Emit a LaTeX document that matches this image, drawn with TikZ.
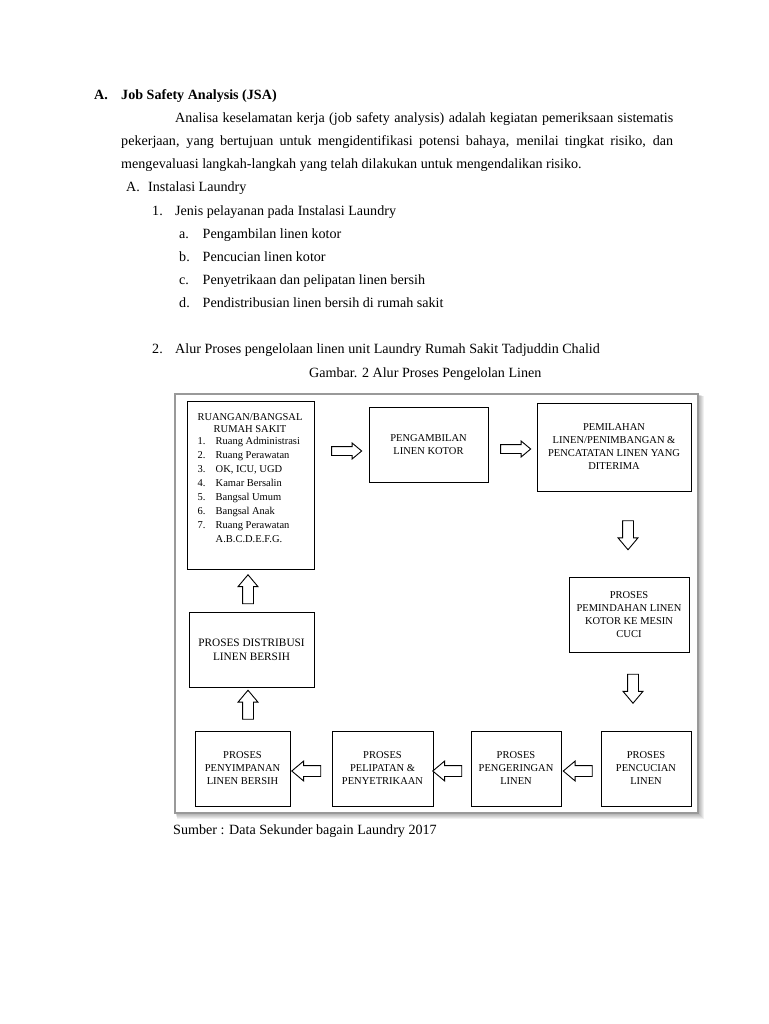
\documentclass[tikz,border=0pt]{standalone}
\usepackage{fontspec}
\setmainfont{Liberation Serif}
\usetikzlibrary{shapes.arrows}
\begin{document}
\begin{tikzpicture}[x=1pt,y=-1pt,
  txt/.style={anchor=base west, inner sep=0, font=\fontsize{14.1}{17}\selectfont},
  btxt/.style={txt, font=\fontsize{14.1}{17}\selectfont\bfseries},
  box/.style={draw, line width=0.9pt, fill=white, inner sep=0, align=center, font=\fontsize{10.5}{13}\selectfont},
  small/.style={font=\fontsize{10.5}{14}\selectfont, inner sep=0},
  barrow/.style={single arrow, draw, fill=white, line width=0.9pt, inner sep=5, minimum height=29, minimum width=19, single arrow head extend=4.5, single arrow tip angle=80, single arrow head indent=0},
  sarrow/.style={barrow, inner sep=4, minimum height=30, minimum width=15, single arrow head extend=3.5}
]
\useasboundingbox (0,0) rectangle (768,1024);
\fill[white] (0,0) rectangle (768,1024);

% ---- text ----
\node[btxt] (tA) at (94,100) {A.};
\node[btxt] (title) at (121,100) {Job Safety Analysis (JSA)};
\node[txt] (p1) at (175,123) {\makebox[498pt][s]{Analisa keselamatan kerja (job safety analysis) adalah kegiatan pemeriksaan sistematis}};
\node[txt] (p2) at (121,146) {\makebox[552pt][s]{pekerjaan, yang bertujuan untuk mengidentifikasi potensi bahaya, menilai tingkat risiko, dan}};
\node[txt] (p3) at (121,169) {mengevaluasi langkah-langkah yang telah dilakukan untuk mengendalikan risiko.};
\node[txt] (sA) at (126,192) {A.};
\node[txt] (sAt) at (148,192) {Instalasi Laundry};
\node[txt] (n1) at (152,215) {1.};
\node[txt] (n1t) at (175,215) {Jenis pelayanan pada Instalasi Laundry};
\node[txt] (la) at (179,238) {a.};
\node[txt] (lat) at (202.5,238) {Pengambilan linen kotor};
\node[txt] (lb) at (179,261) {b.};
\node[txt] (lbt) at (202.5,261) {Pencucian linen kotor};
\node[txt] (lc) at (179,284) {c.};
\node[txt] (lct) at (202.5,284) {Penyetrikaan dan pelipatan linen bersih};
\node[txt] (ld) at (179,307) {d.};
\node[txt] (ldt) at (202.5,307) {Pendistribusian linen bersih di rumah sakit};
\node[txt] (n2) at (152,353) {2.};
\node[txt] (n2t) at (175,353) {Alur Proses pengelolaan linen unit Laundry Rumah Sakit Tadjuddin Chalid};
\node[txt] (cap) at (309,377) {Gambar. 2 Alur Proses Pengelolan Linen};
\node[txt] (src) at (173,834) {Sumber : Data Sekunder bagain Laundry 2017};

% ---- frame with shadow ----
\foreach \s in {1,...,6}
  \fill[black,opacity=0.06] ({175+\s*0.3},{394+\s*0.3}) rectangle ({698+\s},{813+\s});
\node[draw=black!40, line width=1.8pt, fill=white, minimum width=523, minimum height=419, inner sep=0] (frame) at (436.5,603.5) {};

% ---- boxes ----
\node[box, minimum width=127, minimum height=168] (ruang) at (250.5,485) {};
\node[small, anchor=base] (rh1) at (250,420) {RUANGAN/BANGSAL};
\node[small, anchor=base] (rh2) at (250,432) {RUMAH SAKIT};
\node[small, anchor=base west] (rlist) at (197.5,444) {\begin{tabular}[t]{@{}l@{}}
\makebox[18pt][l]{1.}Ruang Administrasi\\
\makebox[18pt][l]{2.}Ruang Perawatan\\
\makebox[18pt][l]{3.}OK, ICU, UGD\\
\makebox[18pt][l]{4.}Kamar Bersalin\\
\makebox[18pt][l]{5.}Bangsal Umum\\
\makebox[18pt][l]{6.}Bangsal Anak\\
\makebox[18pt][l]{7.}Ruang Perawatan\\
\hspace*{18pt}A.B.C.D.E.F.G.
\end{tabular}};
\node[box, minimum width=119, minimum height=75] (ambil) at (428.5,444.5) {PENGAMBILAN\\LINEN KOTOR};
\node[box, minimum width=154, minimum height=88] (pilah) at (614,447) {PEMILAHAN\\LINEN/PENIMBANGAN \&\\PENCATATAN LINEN YANG\\DITERIMA};
\node[box, minimum width=120, minimum height=75] (pindah) at (629,614.5) {PROSES\\PEMINDAHAN LINEN\\KOTOR KE MESIN\\CUCI};
\node[box, minimum width=90, minimum height=75] (cuci) at (646,768.5) {PROSES\\PENCUCIAN\\LINEN};
\node[box, minimum width=90, minimum height=75] (kering) at (516,768.5) {PROSES\\PENGERINGAN\\LINEN};
\node[box, minimum width=101, minimum height=75] (lipat) at (382.5,768.5) {PROSES\\PELIPATAN \&\\PENYETRIKAAN};
\node[box, minimum width=95, minimum height=75] (simpan) at (242.5,768.5) {PROSES\\PENYIMPANAN\\LINEN BERSIH};
\node[box, minimum width=125, minimum height=75, font=\fontsize{11.3}{14}\selectfont] (distri) at (251.5,649.5) {PROSES DISTRIBUSI\\LINEN BERSIH};

% ---- block arrows ----
\node[sarrow] (a1) at (344,451) {};
\node[sarrow] (a2) at (513,449) {};
\node[barrow, shape border rotate=270] (a3) at (628,532) {};
\node[barrow, shape border rotate=270] (a4) at (633,685.5) {};
\node[barrow, shape border rotate=180] (a5) at (581,771) {};
\node[barrow, shape border rotate=180] (a6) at (450.5,771) {};
\node[barrow, shape border rotate=180] (a7) at (309.5,771) {};
\node[barrow, shape border rotate=90] (a8) at (248,708) {};
\node[barrow, shape border rotate=90] (a9) at (248,592.5) {};
\end{tikzpicture}
\end{document}
